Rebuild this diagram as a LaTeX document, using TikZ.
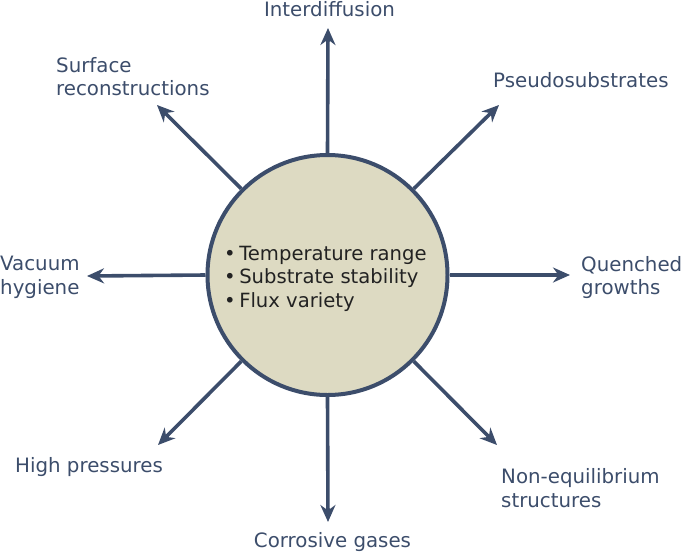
\documentclass[tikz,border=0pt]{standalone}
\usepackage{fontspec}
\setmainfont{DejaVu Sans}
\usetikzlibrary{arrows.meta,calc}
\definecolor{navy}{HTML}{3C4D6B}
\definecolor{disc}{HTML}{DDDAC2}
\definecolor{ink}{HTML}{222222}
\begin{document}
\begin{tikzpicture}[x=1pt,y=1pt,
  lbl/.style={text=navy,font=\fontsize{19.8}{23.5}\selectfont,inner sep=0,align=left},
  arr/.style={draw=navy,line width=3.6pt,-{Stealth[length=17pt,width=15pt,inset=5.5pt]}}]
\useasboundingbox (0,0) rectangle (685,-555);
\coordinate (C) at (327.5,-275);
\node[circle,draw=navy,fill=disc,line width=4pt,minimum size=240pt,inner sep=0] (hub) at (C) {};
\node[anchor=base west,inner sep=0,text=ink,font=\fontsize{19.6}{23.5}\selectfont,align=left] (items) at (224,-307)
  {\textbullet\hspace{3.5pt}Temperature range\\ \textbullet\hspace{3.5pt}Substrate stability\\ \textbullet\hspace{3.5pt}Flux variety};
% arrow tips
\coordinate (tN) at (328,-28);
\coordinate (tS) at (328,-522);
\coordinate (tE) at (570,-275);
\coordinate (tW) at (87,-276);
\coordinate (tNE) at (499,-105);
\coordinate (tNW) at (157,-105);
\coordinate (tSW) at (158,-445);
\coordinate (tSE) at (497,-445);
\draw[arr] (hub.90) -- (tN);
\draw[arr] (hub.-90) -- (tS);
\draw[arr] (hub.0) -- (tE);
\draw[arr] (hub.180) -- (tW);
\draw[arr] (hub.45) -- (tNE);
\draw[arr] (hub.135) -- (tNW);
\draw[arr] (hub.-135) -- (tSW);
\draw[arr] (hub.-45) -- (tSE);
% labels
\node[lbl,anchor=base] (lN) at (329.5,-16) {Interdiffusion};
\node[lbl,anchor=base west] (lNW) at (56,-95.5) {Surface\\reconstructions};
\node[lbl,anchor=base west] (lNE) at (493,-87) {Pseudosubstrates};
\node[lbl,anchor=base west] (lW) at (0,-294) {Vacuum\\hygiene};
\node[lbl,anchor=base west] (lE) at (581,-294.5) {Quenched\\growths};
\node[lbl,anchor=base west] (lSW) at (15,-472) {High pressures};
\node[lbl,anchor=base west] (lSE) at (501,-507) {Non-equilibrium\\structures};
\node[lbl,anchor=base] (lS) at (332.5,-547) {Corrosive gases};
\end{tikzpicture}
\end{document}
